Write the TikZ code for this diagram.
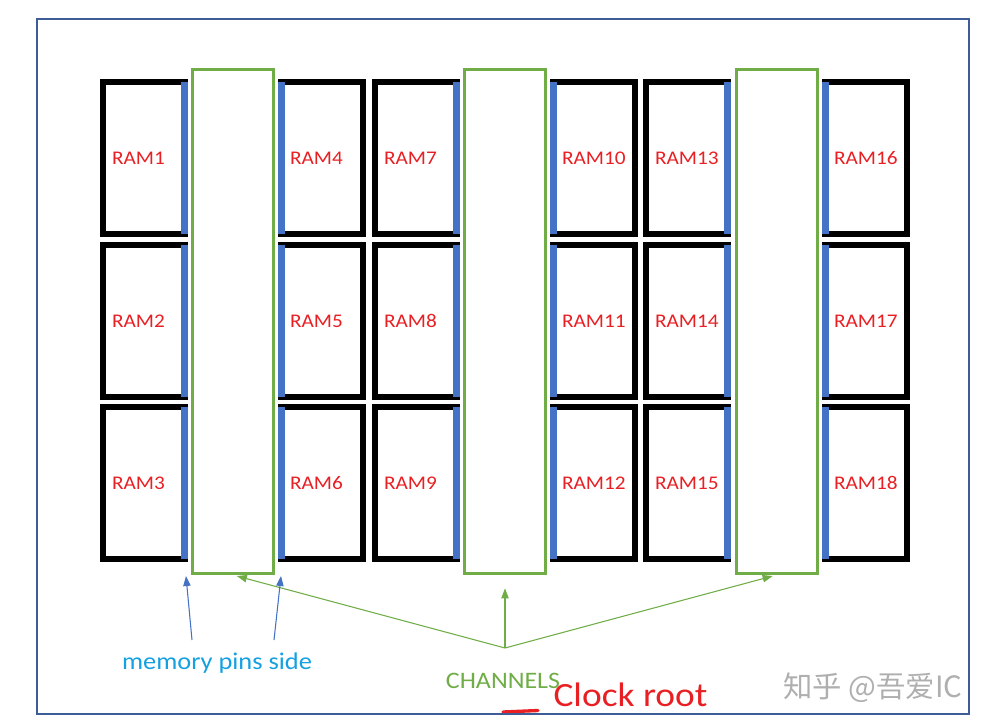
\documentclass[tikz,border=0pt]{standalone}
\usepackage{fontspec}
\setmainfont[FakeStretch=1.1]{Carlito}
\newfontfamily\cjk{Noto Sans CJK SC}
\usetikzlibrary{arrows.meta}
\definecolor{ramred}{RGB}{232,32,36}
\definecolor{pinblue}{RGB}{68,114,196}
\definecolor{changreen}{RGB}{112,173,71}
\definecolor{pintext}{RGB}{20,160,225}
\definecolor{framecol}{RGB}{62,92,150}
\definecolor{markgray}{RGB}{175,175,175}
\begin{document}
\begin{tikzpicture}[x=0.75pt,y=-0.75pt,
  >={Triangle[length=7.5pt,width=5.5pt]},
  ram/.style={draw,line width=4.5pt,minimum width=61.5pt,minimum height=114pt,
    inner xsep=6.75pt,text width=48pt,align=left,text=ramred,
    font=\fontsize{14.5pt}{16pt}\selectfont},
  pinbar/.style={pinblue,line width=5.25pt},
  channel/.style={draw=changreen,line width=2.25pt,minimum width=60.75pt,minimum height=378pt},
  chanarrow/.style={->,changreen,line width=0.8pt},
  pinarrow/.style={->,pinblue,line width=0.8pt}]
\useasboundingbox (0,0) rectangle (989,728);
\node[ram] (ram1) at (144,158) {RAM1};
\node[ram] (ram2) at (144,321) {RAM2};
\node[ram] (ram3) at (144,483) {RAM3};
\node[ram] (ram4) at (322,158) {RAM4};
\node[ram] (ram5) at (322,321) {RAM5};
\node[ram] (ram6) at (322,483) {RAM6};
\node[ram] (ram7) at (416,158) {RAM7};
\node[ram] (ram8) at (416,321) {RAM8};
\node[ram] (ram9) at (416,483) {RAM9};
\node[ram] (ram10) at (594,158) {RAM10};
\node[ram] (ram11) at (594,321) {RAM11};
\node[ram] (ram12) at (594,483) {RAM12};
\node[ram] (ram13) at (687,158) {RAM13};
\node[ram] (ram14) at (687,321) {RAM14};
\node[ram] (ram15) at (687,483) {RAM15};
\node[ram] (ram16) at (866,158) {RAM16};
\node[ram] (ram17) at (866,321) {RAM17};
\node[ram] (ram18) at (866,483) {RAM18};
\draw[pinbar] ([shift={(-2.6pt,-2pt)}]ram1.north east) -- ([shift={(-2.6pt,2pt)}]ram1.south east);
\draw[pinbar] ([shift={(-2.6pt,-2pt)}]ram2.north east) -- ([shift={(-2.6pt,2pt)}]ram2.south east);
\draw[pinbar] ([shift={(-2.6pt,-2pt)}]ram3.north east) -- ([shift={(-2.6pt,2pt)}]ram3.south east);
\draw[pinbar] ([shift={(2.6pt,-2pt)}]ram4.north west) -- ([shift={(2.6pt,2pt)}]ram4.south west);
\draw[pinbar] ([shift={(2.6pt,-2pt)}]ram5.north west) -- ([shift={(2.6pt,2pt)}]ram5.south west);
\draw[pinbar] ([shift={(2.6pt,-2pt)}]ram6.north west) -- ([shift={(2.6pt,2pt)}]ram6.south west);
\draw[pinbar] ([shift={(-2.6pt,-2pt)}]ram7.north east) -- ([shift={(-2.6pt,2pt)}]ram7.south east);
\draw[pinbar] ([shift={(-2.6pt,-2pt)}]ram8.north east) -- ([shift={(-2.6pt,2pt)}]ram8.south east);
\draw[pinbar] ([shift={(-2.6pt,-2pt)}]ram9.north east) -- ([shift={(-2.6pt,2pt)}]ram9.south east);
\draw[pinbar] ([shift={(2.6pt,-2pt)}]ram10.north west) -- ([shift={(2.6pt,2pt)}]ram10.south west);
\draw[pinbar] ([shift={(2.6pt,-2pt)}]ram11.north west) -- ([shift={(2.6pt,2pt)}]ram11.south west);
\draw[pinbar] ([shift={(2.6pt,-2pt)}]ram12.north west) -- ([shift={(2.6pt,2pt)}]ram12.south west);
\draw[pinbar] ([shift={(-2.6pt,-2pt)}]ram13.north east) -- ([shift={(-2.6pt,2pt)}]ram13.south east);
\draw[pinbar] ([shift={(-2.6pt,-2pt)}]ram14.north east) -- ([shift={(-2.6pt,2pt)}]ram14.south east);
\draw[pinbar] ([shift={(-2.6pt,-2pt)}]ram15.north east) -- ([shift={(-2.6pt,2pt)}]ram15.south east);
\draw[pinbar] ([shift={(2.6pt,-2pt)}]ram16.north west) -- ([shift={(2.6pt,2pt)}]ram16.south west);
\draw[pinbar] ([shift={(2.6pt,-2pt)}]ram17.north west) -- ([shift={(2.6pt,2pt)}]ram17.south west);
\draw[pinbar] ([shift={(2.6pt,-2pt)}]ram18.north west) -- ([shift={(2.6pt,2pt)}]ram18.south west);
\node[channel] (ch1) at (233,321.5) {};
\node[channel] (ch2) at (505,321.5) {};
\node[channel] (ch3) at (776.5,321.5) {};
\coordinate (hub) at (505,648);
\draw[chanarrow,shorten >=3pt] (hub) -- (ch1.south);
\draw[chanarrow,shorten >=10pt] (hub) -- (ch2.south);
\draw[chanarrow,shorten >=3pt] (hub) -- (ch3.south);
\coordinate (pin1) at (192,640);
\coordinate (pin2) at (274,640);
\coordinate (bar1) at (186,576);
\coordinate (bar2) at (281,576);
\draw[pinarrow] (pin1) -- (bar1);
\draw[pinarrow] (pin2) -- (bar2);
\node[anchor=base,text=pintext,font=\fontsize{18pt}{20pt}\selectfont] (pins) at (217,669) {memory pins side};
\node[anchor=base,text=changreen,font=\fontsize{17.7pt}{20pt}\selectfont] (chans) at (503,688) {CHANNELS};
\node[anchor=base,text=ramred,font=\fontsize{25.5pt}{28pt}\selectfont] (clk) at (630.5,706) {Clock root};
\node[anchor=base,text=markgray,font=\cjk\fontsize{22pt}{24pt}\selectfont] (mark) at (873,697) {知乎 @吾爱IC};
\draw[ramred,line width=2.5pt,line cap=round] (503,712) -- (538,710.5);
\draw[framecol,line width=1.5pt] (37,19) rectangle (969,714);
\end{tikzpicture}
\end{document}
